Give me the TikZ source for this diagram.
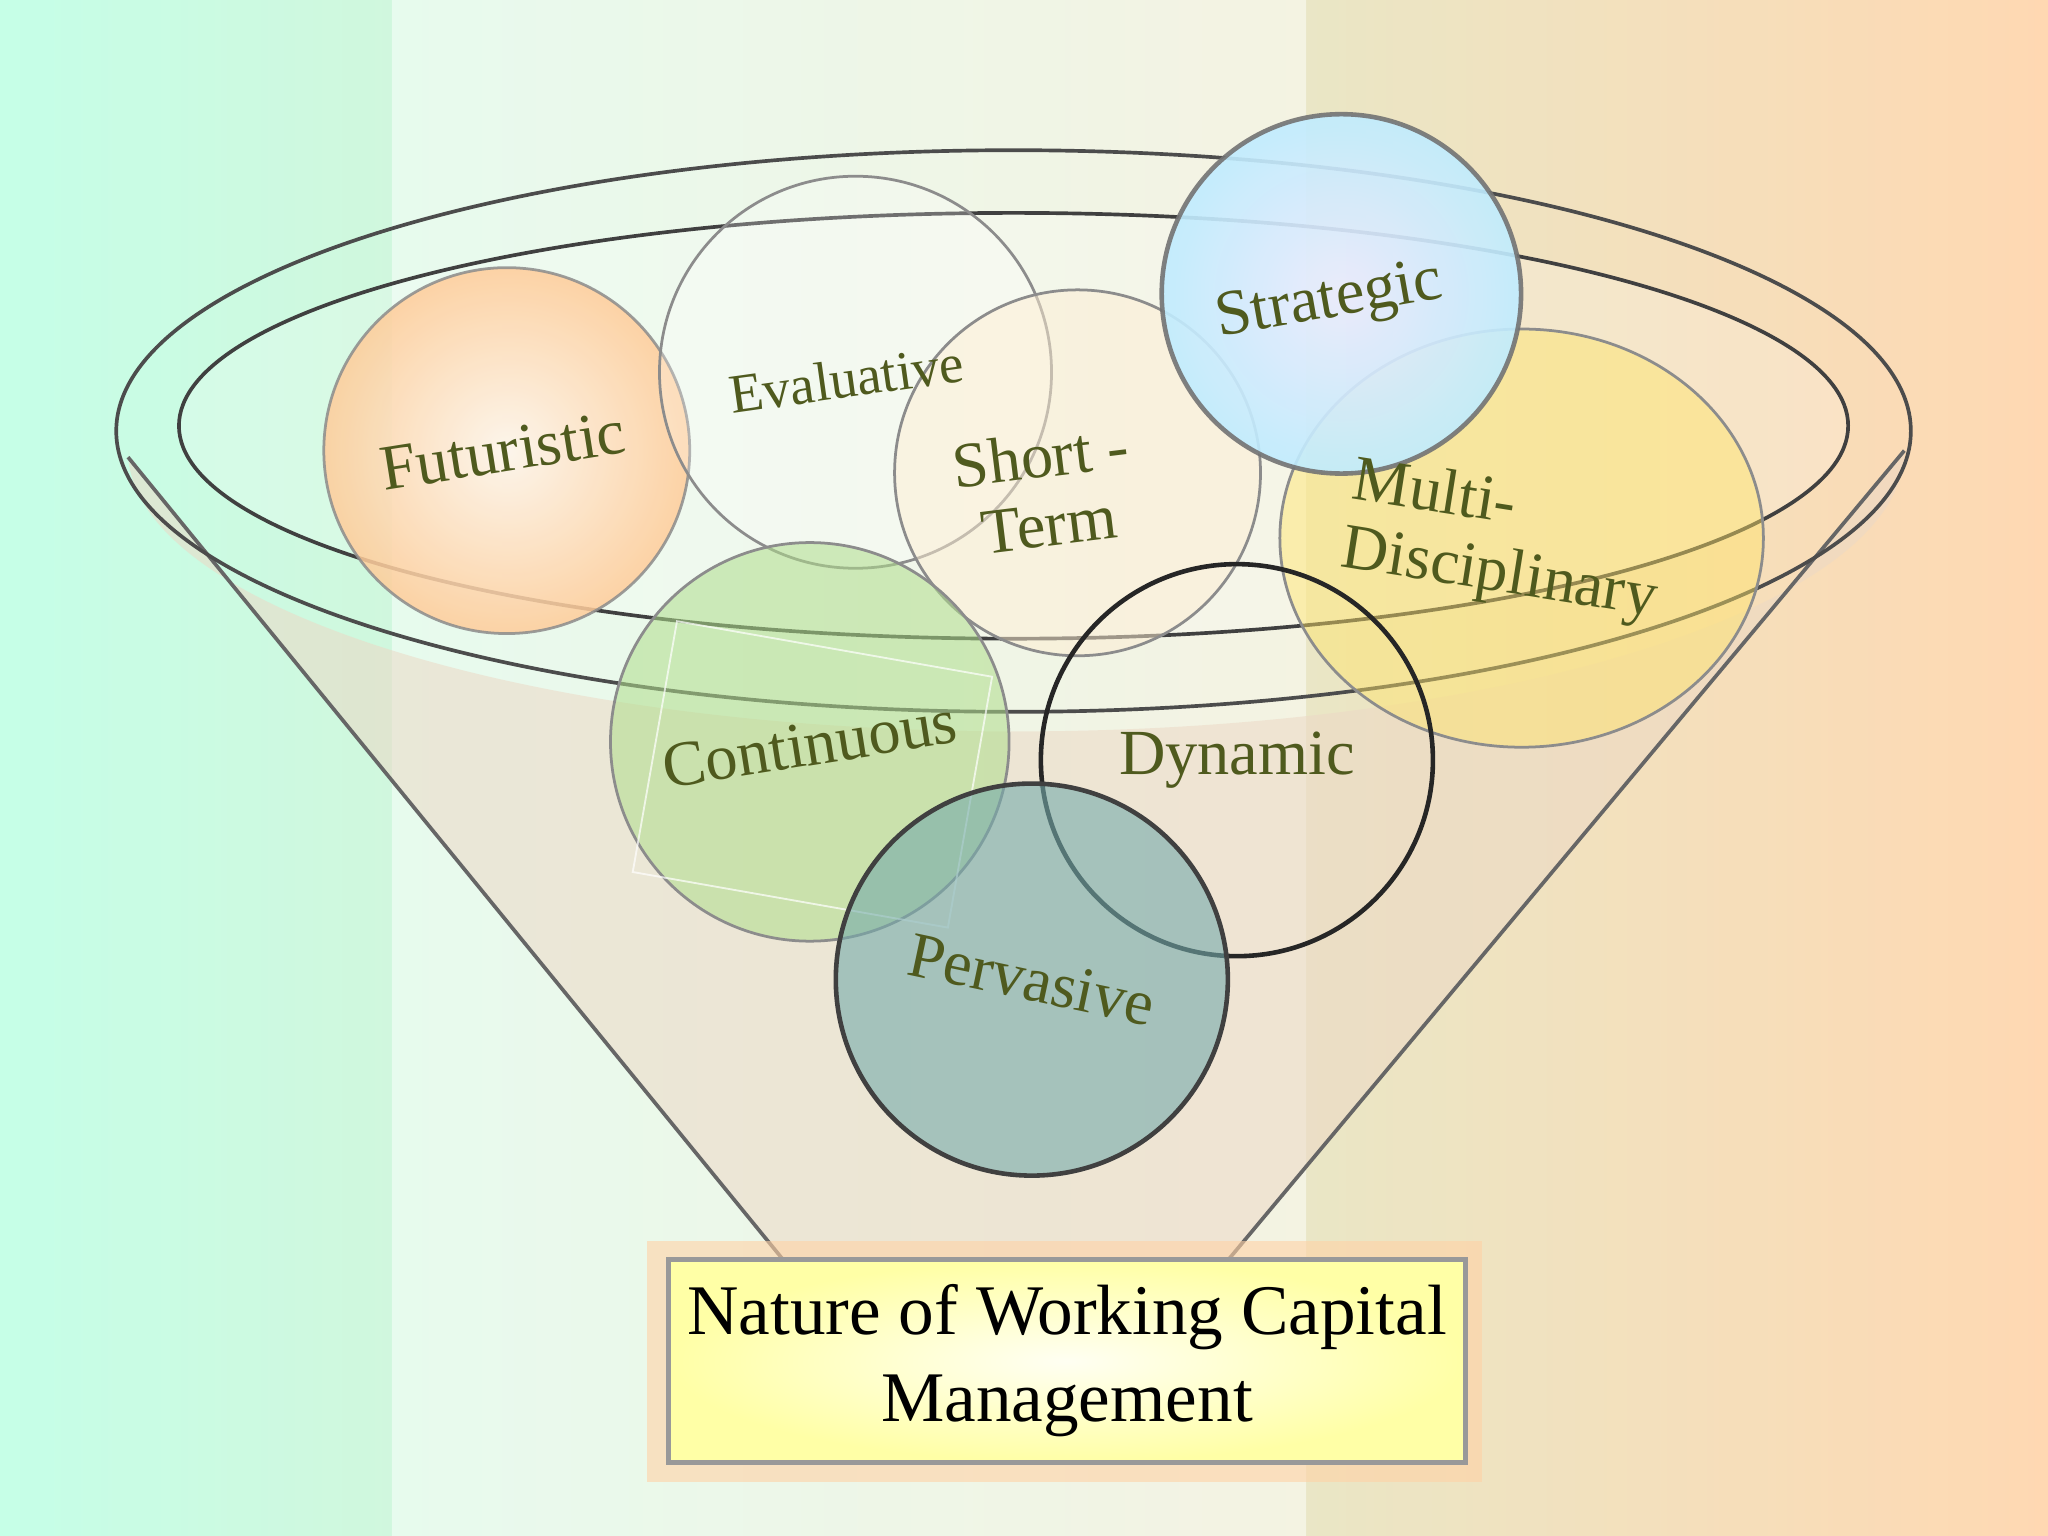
\documentclass[tikz,border=0pt]{standalone}
\usepackage{fontspec}
\usetikzlibrary{shapes.geometric}
\setmainfont{Liberation Serif}
\definecolor{lblc}{HTML}{4F5A1E}
\begin{document}
\begin{tikzpicture}[x=0.01cm,y=-0.01cm,
  lbl/.style={font=\fontsize{14}{15}\selectfont, text=lblc, align=center},
  bub/.style={draw=black!45, line width=0.6pt}]
\useasboundingbox (0,0) rectangle (1568,1176);
\shade[left color=green!40!cyan!30, middle color=white, right color=orange!40] (0,0) rectangle (1568,1176);
\shade[top color=white, bottom color=white, middle color=white, opacity=0.5] (300,0) rectangle (1000,1176);
\fill[white,opacity=0.25] (0,0) rectangle (1568,1176);
% funnel
\fill[brown!30!white, opacity=0.55] (98,350) -- (600,965) -- (940,965) -- (1458,345) arc[start angle=0,end angle=180,x radius=680,y radius=215] -- cycle;
\draw[black!60, line width=0.8pt] (98,350) -- (600,965);
\draw[black!60, line width=0.8pt] (1458,345) -- (940,965);
\draw[black!70, line width=0.8pt] (776,330) ellipse[x radius=687, y radius=215];
\fill[white, opacity=0.2] (776,326) ellipse[x radius=639, y radius=163];
\draw[black!75, line width=0.8pt] (776,326) ellipse[x radius=639, y radius=163];
% bubbles
\node[bub, circle, minimum size=2.8cm, inner color=orange!8, outer color=orange!40, opacity=0.85] (fut) at (388,345) {};
\node[bub, circle, minimum size=3.0cm, fill=white, fill opacity=0.25] (eva) at (655,285) {};
\node[bub, circle, minimum size=2.8cm, fill=yellow!20!orange!15, fill opacity=0.5] (sht) at (825,362) {};
\node[bub, ellipse, minimum width=3.7cm, minimum height=3.2cm, fill=orange!35!yellow!60, fill opacity=0.45] (mul) at (1165,412) {};
\node[bub, circle, minimum size=2.75cm, inner color=blue!8, outer color=blue!30!cyan!25, draw=black!55, line width=1pt, opacity=0.9] (str) at (1027,225) {};
\node[bub, circle, minimum size=3.05cm, fill=green!40!olive!45, fill opacity=0.55] (con) at (620,568) {};
\draw[white, opacity=0.7, rotate around={-10:(620,590)}] (500,495)--(745,495)--(745,690)--(500,690)--cycle;
\node[circle, draw=black!85, line width=1pt, minimum size=3.0cm] (dyn) at (947,582) {};
\node[circle, draw=black!75, line width=1pt, minimum size=3.0cm, fill=teal!50!cyan!35!gray!80, fill opacity=0.6] (per) at (790,750) {};
% labels
\node[lbl, rotate=9] at (385,345) {Futuristic};
\node[lbl, rotate=8, font=\fontsize{12}{14}\selectfont] at (648,290) {Evaluative};
\node[lbl, rotate=7] at (800,375) {Short -\\ Term};
\node[lbl, rotate=10] at (1018,232) {Strategic};
\node[lbl, rotate=-9, align=left] at (1152,415) {Multi-\\Disciplinary};
\node[lbl, rotate=9] at (620,570) {Continuous};
\node[lbl] at (947,582) {Dynamic};
\node[lbl, rotate=-12] at (790,750) {Pervasive};
% box
\fill[orange!35, opacity=0.6] (495,950) rectangle (1135,1135);
\node[draw=black!40, line width=1pt, inner color=yellow!5, outer color=yellow!35, minimum width=6.1cm, minimum height=1.55cm, align=center, font=\fontsize{15.5}{19}\selectfont] (box) at (817,1042) {Nature of Working Capital\\Management};
\end{tikzpicture}
\end{document}
